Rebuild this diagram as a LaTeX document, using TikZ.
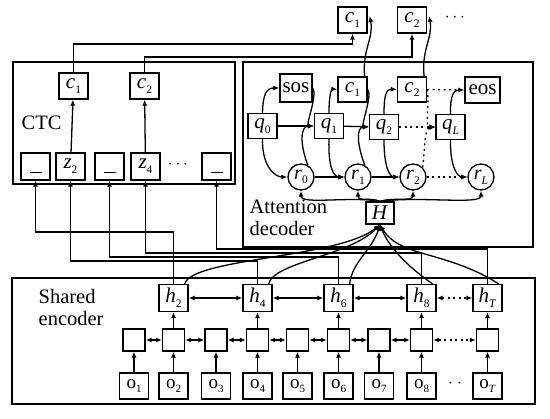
\documentclass[tikz,border=0pt]{standalone}
\usepackage{fontspec}
\setmainfont{Liberation Serif}
\usetikzlibrary{arrows.meta}
\newcommand\lb[2]{\textit{#1}\raisebox{-0.5ex}{\fontsize{11.5}{11.5}\selectfont #2}}
\newcommand\ob[1]{o\raisebox{-0.5ex}{\fontsize{11}{11}\selectfont #1}}
\begin{document}
\begin{tikzpicture}[x=1pt,y=-1pt,line width=1.3pt,>={Latex[length=6pt,width=5pt]},
 box/.style={draw,minimum width=29pt,minimum height=26pt,inner sep=0pt,font=\fontsize{21}{21}\selectfont},
 obox/.style={box,font=\fontsize{19}{19}\selectfont},
 mbox/.style={draw,minimum width=22pt,minimum height=22pt,inner sep=0pt},
 rc/.style={draw,circle,minimum size=26pt,inner sep=0pt,font=\fontsize{20}{20}\selectfont},
 frame/.style={draw,line width=1.3pt},
 lbl/.style={font=\fontsize{20.5}{22}\selectfont,align=left,anchor=west,inner sep=0pt},
 dotl/.style={dash pattern=on 2pt off 3.5pt},
 dts/.style={font=\fontsize{17}{17}\selectfont,inner sep=0pt}]
\useasboundingbox (0,0) rectangle (550,419);
% frames
\draw[frame] (13,62) rectangle (235,184);
\draw[frame] (243,62) rectangle (533,247);
\draw[frame] (12,278) rectangle (535,404);
\node[lbl] (lctc) at (21,123) {CTC};
\node[lbl] (latt) at (249,218) {Attention\\decoder};
\node[lbl] (lenc) at (38,307) {Shared\\encoder};
% top outputs
\node[box] (tc1) at (352.5,20) {\lb{c}{1}};
\node[box] (tc2) at (412,20) {\lb{c}{2}};
\node[dts] (tdots) at (455,18) {$\cdots$};
% CTC
\node[box] (cc1) at (73.5,86) {\lb{c}{1}};
\node[box] (cc2) at (144.5,86) {\lb{c}{2}};
\node[box,minimum height=27pt] (b1) at (35.5,166.5) {};
\node[box,minimum height=27pt] (z2) at (70.5,166.5) {\lb{z}{2}};
\node[box,minimum height=27pt] (b2) at (109.5,166.5) {};
\node[box,minimum height=27pt] (z4) at (145.5,166.5) {\lb{z}{4}};
\node[dts] (cdots) at (178,165) {$\cdots$};
\node[box,minimum height=27pt] (b3) at (216.5,166.5) {};
\foreach \b in {b1,b2,b3}
  \draw[line width=1.6pt] ([xshift=-6pt,yshift=-6pt]\b.center) -- ([xshift=6pt,yshift=-6pt]\b.center);
\draw[->] (z2) -- (cc1);
\draw[->] (z4) -- (cc2);
\coordinate (ya) at (0,44);
\coordinate (yb) at (0,57);
\draw[->] (cc1.north) -- (cc1.north |- ya) -| (tc1.south);
\draw[->] (cc2.north) -- (cc2.north |- yb) -| (tc2.south);
% attention decoder
\node[box,minimum width=32pt,minimum height=28pt] (sos) at (296,88) {sos};
\node[box,minimum height=25pt] (ac1) at (352.5,89.5) {\lb{c}{1}};
\node[box,minimum height=25pt] (ac2) at (412,89.5) {\lb{c}{2}};
\node[box,minimum width=35pt,minimum height=26pt] (eos) at (482.5,90) {eos};
\node[box,minimum height=25pt] (q0) at (262.5,126) {\lb{q}{0}};
\node[box,minimum height=25pt] (q1) at (329,126) {\lb{q}{1}};
\node[box,minimum height=25pt] (q2) at (384,127) {\lb{q}{2}};
\node[box,minimum height=25pt] (qL) at (450.5,127) {\lb{q}{\textit{L}}};
\node[rc] (r0) at (301,177) {\lb{r}{0}};
\node[rc] (r1) at (358,177) {\lb{r}{1}};
\node[rc] (r2) at (413,177) {\lb{r}{2}};
\node[rc] (rL) at (481,177) {\lb{r}{\textit{L}}};
\node[box,minimum width=28pt,minimum height=22pt] (H) at (380,213) {\textit{H}};
% decoder connections
\draw[->] (q0.north) .. controls (263,95) and (266,88) .. (sos.west);
\draw[->] (sos.east) .. controls (318,95) and (305,126) .. (q1.west);
\draw[->] (q0) -- (q1);
\draw[->] (q0.south) .. controls (262,168) and (276,177) .. (r0.west);
\draw[->] (r0.60) .. controls (300,145) and (300,126) .. (q1.west);
\draw[->] (r0) -- (r1);
\draw[->] (q1.north) .. controls (329,93) and (332,89) .. (ac1.west);
\draw[->] (ac1.east) .. controls (373,95) and (360,127) .. (q2.west);
\draw[->] (q1) -- (q2);
\draw[->] (q1.south) .. controls (328,168) and (334,177) .. (r1.west);
\draw[->] (r1.60) .. controls (357,145) and (356,127) .. (q2.west);
\draw[->] (r1) -- (r2);
\draw[->] (q2.north) .. controls (384,93) and (387,89) .. (ac2.west);
\draw[->] (q2.south) .. controls (384,168) and (390,177) .. (r2.west);
\draw[->,dotl] (q2) -- (qL);
\draw[dotl] (ac2.east) -- (eos.west);
\draw[->,dotl] (ac2.east) .. controls (430,105) and (424,127) .. (qL.west);
\draw[->,dotl] (r2.45) .. controls (425,150) and (424,128) .. (qL.west);
\draw[->,dotl] (r2) -- (rL);
\draw[->] (qL.north) .. controls (450,95) and (454,90) .. (eos.west);
\draw[->] (qL.south) .. controls (450,168) and (458,177) .. (rL.west);
\draw[->] ([xshift=-3pt]ac1.north east) .. controls (362,50) and (374,38) .. ([xshift=2pt,yshift=4pt]tc1.east);
\draw[->] ([xshift=-3pt]ac2.north east) .. controls (421,50) and (433,38) .. ([xshift=2pt,yshift=4pt]tc2.east);
% H to r
\draw[->] (H.north) .. controls (350,196) and (301,205) .. (r0.south);
\draw[->] (H.north) .. controls (370,197) and (358,202) .. (r1.south);
\draw[->] (H.north) .. controls (392,197) and (413,202) .. (r2.south);
\draw[->] (H.north) .. controls (420,196) and (481,205) .. (rL.south);
% encoder
\foreach \i/\x in {1/134,2/173.5,3/216,4/257.5,5/297.5,6/338.5,7/379,8/421.5,9/487.5}{
  \node[mbox] (m\i) at (\x,340) {};
}
\node[obox] (o1) at (134,386) {\ob{1}};
\node[obox] (o2) at (173.5,386) {\ob{2}};
\node[obox] (o3) at (216,386) {\ob{3}};
\node[obox] (o4) at (257.5,386) {\ob{4}};
\node[obox] (o5) at (297.5,386) {\ob{5}};
\node[obox] (o6) at (338.5,386) {\ob{6}};
\node[obox] (o7) at (379,386) {\ob{7}};
\node[obox] (o8) at (421.5,386) {\ob{8}};
\node[dts] (odots) at (455,384) {$\cdot\ \cdot$};
\node[obox] (o9) at (487.5,386) {\ob{\textit{T}}};
\node[box,minimum height=27pt] (h2) at (173.5,298) {\lb{h}{2}};
\node[box,minimum height=27pt] (h4) at (257.5,298) {\lb{h}{4}};
\node[box,minimum height=27pt] (h6) at (338.5,298) {\lb{h}{6}};
\node[box,minimum height=27pt] (h8) at (421.5,298) {\lb{h}{8}};
\node[box,minimum height=27pt] (hT) at (487.5,298) {\lb{h}{\textit{T}}};
\foreach \i in {1,...,9} \draw[->] (o\i) -- (m\i);
\draw[->] (m2) -- (h2);
\draw[->] (m4) -- (h4);
\draw[->] (m6) -- (h6);
\draw[->] (m8) -- (h8);
\draw[->] (m9) -- (hT);
\foreach \i/\j in {1/2,2/3,3/4,4/5,5/6,6/7,7/8} \draw[<->] (m\i) -- (m\j);
\draw[<->,dotl] (m8) -- (m9);
\draw[<->] (h2) -- (h4);
\draw[<->] (h4) -- (h6);
\draw[<->] (h6) -- (h8);
\draw[<->,dotl] (h8) -- (hT);
% encoder to CTC
\coordinate (l1) at (0,232);
\coordinate (l2) at (0,261);
\coordinate (l3) at (0,257);
\coordinate (l4) at (0,253);
\coordinate (l5) at (0,249);
\draw[->] (h2.north) -- (h2.north |- l1) -| (b1.south);
\draw[->] (h4.north) -- (h4.north |- l2) -| (z2.south);
\draw[->] (h6.north) -- (h6.north |- l3) -| (b2.south);
\draw[->] (h8.north) -- (h8.north |- l4) -| (z4.south);
\draw[->] (hT.north) -- (hT.north |- l5) -| (b3.south);
% encoder to H
\draw[->] ([xshift=-4pt]h2.north east) .. controls (192,258) and (340,258) .. (H.south);
\draw[->] ([xshift=-4pt]h4.north east) .. controls (274,262) and (350,256) .. (H.south);
\draw[->] ([xshift=-4pt]h6.north east) .. controls (352,262) and (372,250) .. (H.south);
\draw[->] ([xshift=-4pt]h8.north east) .. controls (405,265) and (388,245) .. (H.south);
\draw[->] ([xshift=-4pt]hT.north east) .. controls (445,250) and (400,258) .. (H.south);
\end{tikzpicture}
\end{document}
